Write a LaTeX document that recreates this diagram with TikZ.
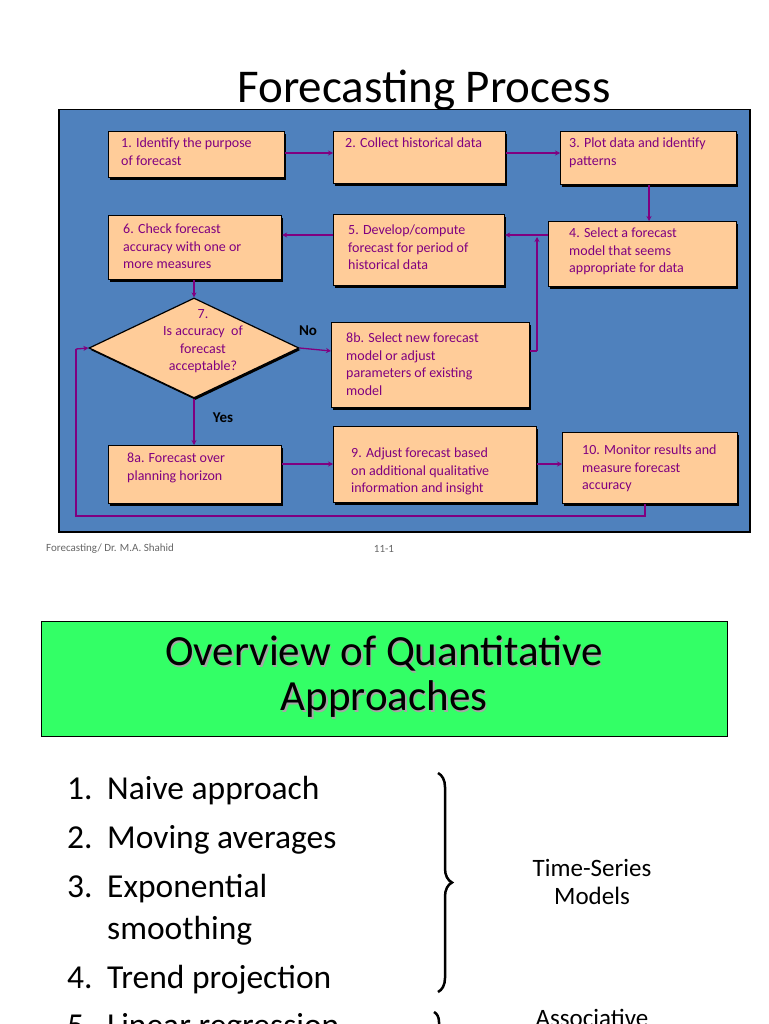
\documentclass[tikz,border=0pt]{standalone}
\usepackage{fontspec}
\setmainfont{Carlito}
\usetikzlibrary{shapes.geometric,decorations.pathreplacing,arrows.meta,shadows}
\definecolor{bluebg}{HTML}{4F81BD}
\definecolor{peach}{HTML}{FFCC99}
\definecolor{purp}{HTML}{800080}
\definecolor{grn}{HTML}{33FF66}
\begin{document}
\begin{tikzpicture}[x=1pt,y=-1pt,
  box/.style={draw=black,line width=1.2pt,fill=peach,anchor=north west,inner sep=0pt,
    drop shadow={shadow xshift=1.5pt,shadow yshift=-2pt,fill=black,opacity=1}},
  txt/.style={text=purp,font=\fontsize{14}{17.5}\selectfont,align=left,anchor=north west,inner sep=0pt},
  arr/.style={draw=purp,line width=1.3pt,-{Stealth[length=5pt,width=5pt]}},
  lnk/.style={draw=purp,line width=1.3pt},
  lbl/.style={font=\bfseries\fontsize{15}{18}\selectfont,inner sep=0pt},
  item/.style={font=\fontsize{33.5}{40}\selectfont,anchor=base west,inner sep=0pt}]
\useasboundingbox (0,0) rectangle (768,1024);
\fill[white] (0,0) rectangle (768,1024);
\begin{scope}
\clip (0,0) rectangle (768,1024);
\node (title) at (424,90) {\fontsize{47}{52}\selectfont Forecasting Process};
\node[draw=black,line width=1.5pt,fill=bluebg,minimum width=691,minimum height=422,anchor=north west,inner sep=0] (frame) at (58,109) {};
% boxes
\node[box,minimum width=176,minimum height=46] (b1) at (108,131) {};
\node[box,minimum width=172,minimum height=52] (b2) at (333,131) {};
\node[box,minimum width=176,minimum height=53] (b3) at (560,131) {};
\node[box,minimum width=188,minimum height=65] (b4) at (548,221) {};
\node[box,minimum width=171,minimum height=71] (b5) at (333,214) {};
\node[box,minimum width=173,minimum height=64] (b6) at (108,215) {};
\node[box,minimum width=198,minimum height=85] (b8b) at (331,322) {};
\node[box,minimum width=173,minimum height=58] (b8a) at (108,445) {};
\node[box,minimum width=203,minimum height=76] (b9) at (333,426) {};
\node[box,minimum width=175,minimum height=71] (b10) at (562,432) {};
\node[diamond,draw=black,line width=1.2pt,fill=peach,minimum width=210,minimum height=100,inner sep=0,
  drop shadow={shadow xshift=1.5pt,shadow yshift=-2pt,fill=black,opacity=1}] (d7) at (194,348) {};
% texts
\node[txt] (t1) at (121,138) {1. Identify the purpose\\of forecast};
\node[txt] (t2) at (345,138) {2. Collect historical data};
\node[txt] (t3) at (569,138) {3. Plot data and identify\\patterns};
\node[txt] (t4) at (569,228) {4. Select a forecast\\model that seems\\appropriate for data};
\node[txt] (t5) at (348,225) {5. Develop/compute\\forecast for period of\\historical data};
\node[txt] (t6) at (123,224) {6. Check forecast\\accuracy with one or\\more measures};
\node[txt,align=center,anchor=north] (t7) at (203,309) {7.\\Is accuracy\ \ of\\forecast\\acceptable?};
\node[txt] (t8b) at (346,333) {8b. Select new forecast\\model or adjust\\parameters of existing\\model};
\node[txt] (t8a) at (127,453) {8a. Forecast over\\planning horizon};
\node[txt] (t9) at (351,448) {9. Adjust forecast based\\on additional qualitative\\information and insight};
\node[txt] (t10) at (582,445) {10. Monitor results and\\measure forecast\\accuracy};
\node[lbl] (no) at (308,331) {No};
\node[lbl] (yes) at (223,418) {Yes};
% arrows
\draw[arr] (b1.east |- 0,153) -- (b2.west |- 0,153);
\draw[arr] (b2.east |- 0,153) -- (b3.west |- 0,153);
\draw[arr] (b3.south -| 649,0) -- (b4.north -| 649,0);
\draw[arr] (b4.west |- 0,235) -- (b5.east |- 0,235);
\draw[arr] (b5.west |- 0,235) -- (b6.east |- 0,235);
\draw[arr] (b6.south -| 194,0) -- (d7.north);
\draw[arr] (d7.east) -- (b8b.west |- 0,351);
\draw[arr] (d7.south) -- (b8a.north -| 194,0);
\coordinate (c8) at (537,351);
\coordinate (c8t) at (537,237);
\draw[lnk] (b8b.east |- 0,351) -- (c8);
\draw[arr] (c8) -- (c8t);
\draw[arr] (b8a.east |- 0,464) -- (b9.west |- 0,464);
\draw[arr] (b9.east |- 0,464) -- (b10.west |- 0,464);
\coordinate (l1) at (645,516);
\coordinate (l2) at (76,516);
\coordinate (l3) at (76,349);
\draw[lnk] (b10.south -| 645,0) -- (l1) -- (l2) -- (l3);
\draw[arr] (l3) -- (d7.west);
% footer
\node[font=\fontsize{11}{13}\selectfont,text=black!60,anchor=west,inner sep=0] (f1) at (46,549) {Forecasting/ Dr. M.A. Shahid};
\node[font=\fontsize{11}{13}\selectfont,text=black!60,inner sep=0] (f2) at (384,549) {11-1};
% green box
\node[draw=black,line width=0.6pt,fill=grn,minimum width=686,minimum height=115,anchor=north west,inner sep=0] (gbox) at (41,621) {};
\node[text=black!35,font=\fontsize{43}{45}\selectfont,align=center] (gsh) at (385.5,678.5) {Overview of Quantitative\\Approaches};
\node[font=\fontsize{43}{45}\selectfont,align=center] (gt) at (384,677) {Overview of Quantitative\\Approaches};
% list
\node[item] (n1) at (67,799) {1.};  \node[item] (i1) at (107,799) {Naive approach};
\node[item] (n2) at (67,848) {2.};  \node[item] (i2) at (107,848) {Moving averages};
\node[item] (n3) at (67,897) {3.};  \node[item] (i3) at (107,897) {Exponential};
\node[item] (i3b) at (107,939) {smoothing};
\node[item] (n4) at (67,988) {4.};  \node[item] (i4) at (107,988) {Trend projection};
\node[item] (n5) at (67,1036) {5.};  \node[item] (i5) at (107,1036) {Linear regression};
\draw[line width=2.5pt,decorate,decoration={brace,amplitude=14pt}] (438,773) -- (438,992);
\draw[line width=2.5pt,decorate,decoration={brace,amplitude=10pt}] (434,1012) -- (434,1060);
\node[font=\fontsize{25}{28}\selectfont,align=center] (ts) at (592,882) {Time-Series\\Models};
\node[font=\fontsize{25}{28}\selectfont,align=center,anchor=north] (as) at (592,1006) {Associative\\Model};
\end{scope}
\end{tikzpicture}
\end{document}
